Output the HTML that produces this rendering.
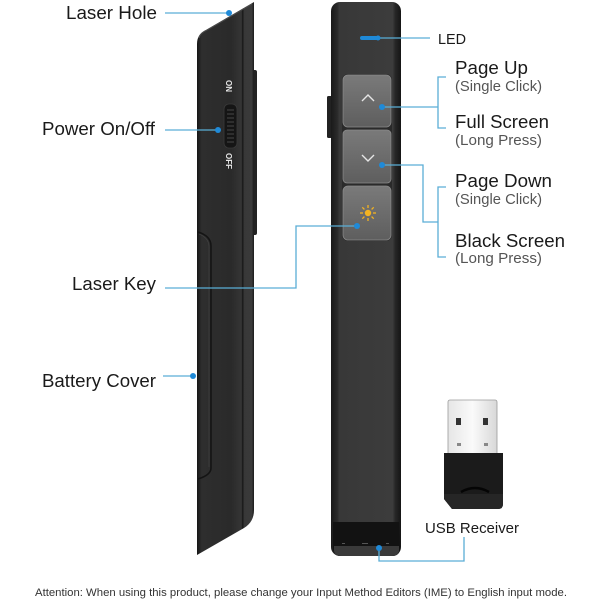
<!DOCTYPE html>
<html>
<head>
<meta charset="utf-8">
<style>
  html,body{margin:0;padding:0;background:#fff;}
  svg{display:block;}
  text{font-family:"Liberation Sans",Arial,sans-serif;}
</style>
</head>
<body>
<svg width="600" height="600" viewBox="0 0 600 600" xmlns="http://www.w3.org/2000/svg">
  <defs>
    <linearGradient id="sideG" x1="0" y1="0" x2="1" y2="0">
      <stop offset="0" stop-color="#161616"/>
      <stop offset="0.08" stop-color="#2e2e2e"/>
      <stop offset="0.6" stop-color="#2a2a2a"/>
      <stop offset="0.78" stop-color="#353535"/>
      <stop offset="0.8" stop-color="#161616"/>
      <stop offset="0.83" stop-color="#383838"/>
      <stop offset="0.96" stop-color="#3a3a3a"/>
      <stop offset="1" stop-color="#1a1a1a"/>
    </linearGradient>
    <linearGradient id="frontG" x1="0" y1="0" x2="1" y2="0">
      <stop offset="0" stop-color="#1a1a1a"/>
      <stop offset="0.09" stop-color="#2a2a2a"/>
      <stop offset="0.12" stop-color="#383838"/>
      <stop offset="0.88" stop-color="#3c3c3c"/>
      <stop offset="0.92" stop-color="#262626"/>
      <stop offset="1" stop-color="#151515"/>
    </linearGradient>
    <linearGradient id="btnG" x1="0" y1="0" x2="0" y2="1">
      <stop offset="0" stop-color="#7a7a7a"/>
      <stop offset="1" stop-color="#5e5e5e"/>
    </linearGradient>
    <linearGradient id="metalG" x1="0" y1="0" x2="1" y2="0">
      <stop offset="0" stop-color="#e6e6e6"/>
      <stop offset="0.5" stop-color="#fafafa"/>
      <stop offset="1" stop-color="#d8d8d8"/>
    </linearGradient>
  </defs>

  <!-- ========== SIDE DEVICE ========== -->
  <!-- side button protrusion -->
  <rect x="252" y="70" width="5" height="165" rx="2" fill="#222"/>
  <path d="M197 44 Q197 34 206 30 L254 2 L254 510 Q254 522 244 528 L197 555 Z" fill="url(#sideG)"/>
  <!-- top rim highlight -->
  <path d="M199 38 Q200 33 207 30 L252 4" stroke="#4a4a4a" stroke-width="1.2" fill="none"/>
  <!-- battery cover outline -->
  <path d="M198 232 Q211 236 211 246 L211 468 Q211 475 198 479" stroke="#141414" stroke-width="1.6" fill="none"/>
  <path d="M199 234 Q209 238 209 247 L209 467" stroke="#444" stroke-width="0.6" fill="none"/>
  <!-- switch -->
  <text x="0" y="0" font-size="8" font-weight="bold" fill="#e8e8e8" transform="translate(226,80) rotate(90)">ON</text>
  <rect x="224" y="104" width="13" height="44" rx="5" fill="#151515" stroke="#3a3a3a" stroke-width="0.8"/>
  <g stroke="#555" stroke-width="0.8">
    <line x1="227" y1="110" x2="234" y2="110"/>
    <line x1="227" y1="114" x2="234" y2="114"/>
    <line x1="227" y1="118" x2="234" y2="118"/>
    <line x1="227" y1="122" x2="234" y2="122"/>
    <line x1="227" y1="126" x2="234" y2="126"/>
    <line x1="227" y1="130" x2="234" y2="130"/>
    <line x1="227" y1="134" x2="234" y2="134"/>
    <line x1="227" y1="138" x2="234" y2="138"/>
    <line x1="227" y1="142" x2="234" y2="142"/>
  </g>
  <text x="0" y="0" font-size="8" font-weight="bold" fill="#e8e8e8" transform="translate(226,153) rotate(90)">OFF</text>

  <!-- ========== FRONT DEVICE ========== -->
  <rect x="327" y="96" width="5" height="42" rx="1.5" fill="#222"/>
  <rect x="331" y="2" width="70" height="554" rx="9" fill="url(#frontG)"/>
  <!-- bottom cap -->
  <path d="M333 522 L399 522 L400 548 Q400 556 392 556 L341 556 Q333 556 333 548 Z" fill="#121212"/>
  <path d="M334 546 L399 546 L399 550 Q399 556 392 556 L341 556 Q334 556 334 550 Z" fill="#3a3a3a"/>
  <g fill="#555">
    <rect x="342" y="543" width="3" height="1"/>
    <rect x="362" y="543" width="6" height="1"/>
    <rect x="386" y="543" width="3" height="1"/>
  </g>
  <!-- LED -->
  <rect x="360" y="36" width="18" height="4" rx="2" fill="#1f8ad8"/>
  <!-- buttons -->
  <rect x="342" y="74" width="50" height="167" rx="6" fill="#2a2a2a"/>
  <rect x="343" y="75" width="48" height="52" rx="5" fill="url(#btnG)" stroke="#8a8a8a" stroke-width="0.8"/>
  <rect x="343" y="130" width="48" height="53" rx="4" fill="url(#btnG)" stroke="#8a8a8a" stroke-width="0.8"/>
  <rect x="343" y="186" width="48" height="54" rx="5" fill="url(#btnG)" stroke="#8a8a8a" stroke-width="0.8"/>
  <polyline points="362,101 368,95 374,101" stroke="#e6e6e6" stroke-width="1.4" fill="none"/>
  <polyline points="362,155 368,161 374,155" stroke="#e6e6e6" stroke-width="1.4" fill="none"/>
  <!-- sun icon -->
  <g stroke="#f3b321" stroke-width="1.3">
    <line x1="368" y1="205" x2="368" y2="208"/>
    <line x1="368" y1="218" x2="368" y2="221"/>
    <line x1="360" y1="213" x2="363" y2="213"/>
    <line x1="373" y1="213" x2="376" y2="213"/>
    <line x1="362.3" y1="207.3" x2="364.4" y2="209.4"/>
    <line x1="371.6" y1="216.6" x2="373.7" y2="218.7"/>
    <line x1="373.7" y1="207.3" x2="371.6" y2="209.4"/>
    <line x1="364.4" y1="216.6" x2="362.3" y2="218.7"/>
  </g>
  <circle cx="368" cy="213" r="3.2" fill="#f3b321"/>

  <!-- ========== USB RECEIVER ========== -->
  <rect x="448" y="400" width="49" height="55" rx="2" fill="url(#metalG)" stroke="#9a9a9a" stroke-width="0.8"/>
  <rect x="456" y="418" width="5" height="7" fill="#333"/>
  <rect x="483" y="418" width="5" height="7" fill="#333"/>
  <rect x="457" y="443" width="4" height="3" fill="#888"/>
  <rect x="484" y="443" width="4" height="3" fill="#888"/>
  <path d="M444 453 L503 453 L503 504 Q503 509 498 509 L452 509 L444 499 Z" fill="#1b1b1b"/>
  <path d="M444 494 L503 494 L503 504 Q503 509 498 509 L452 509 L444 499 Z" fill="#262626"/>
  <path d="M461 492 Q475 484 489 492" stroke="#050505" stroke-width="2.5" fill="none"/>

  <!-- ========== CONNECTOR LINES ========== -->
  <g stroke="#5aaed6" stroke-width="1.3" fill="none">
    <line x1="165" y1="13" x2="229" y2="13"/>
    <line x1="165" y1="130" x2="218" y2="130"/>
    <polyline points="165,288 296,288 296,226 357,226"/>
    <line x1="163" y1="376" x2="193" y2="376"/>
    <line x1="378" y1="38" x2="430" y2="38"/>
    <line x1="382" y1="107" x2="438" y2="107"/>
    <polyline points="446,77 438,77 438,128 446,128"/>
    <polyline points="382,165 423,165 423,222 438,222"/>
    <polyline points="446,187 438,187 438,257 446,257"/>
    <polyline points="379,548 379,561 464,561 464,537"/>
  </g>
  <g fill="#1f8ad8">
    <circle cx="229" cy="13" r="3"/>
    <circle cx="218" cy="130" r="3"/>
    <circle cx="357" cy="226" r="3"/>
    <circle cx="193" cy="376" r="3"/>
    <circle cx="378" cy="38" r="2.5"/>
    <circle cx="382" cy="107" r="3"/>
    <circle cx="382" cy="165" r="3"/>
    <circle cx="379" cy="548" r="3"/>
  </g>

  <!-- ========== LABELS ========== -->
  <g fill="#1a1a1a" font-size="18.5">
    <text x="66" y="19" textLength="91" lengthAdjust="spacingAndGlyphs">Laser Hole</text>
    <text x="42" y="135" textLength="113" lengthAdjust="spacingAndGlyphs">Power On/Off</text>
    <text x="72" y="290" textLength="84" lengthAdjust="spacingAndGlyphs">Laser Key</text>
    <text x="42" y="387" textLength="114" lengthAdjust="spacingAndGlyphs">Battery Cover</text>
  </g>
  <text x="438" y="44" font-size="15" fill="#1a1a1a" textLength="28" lengthAdjust="spacingAndGlyphs">LED</text>
  <g fill="#1a1a1a" font-size="18">
    <text x="455" y="74" textLength="73" lengthAdjust="spacingAndGlyphs">Page Up</text>
    <text x="455" y="128" textLength="94" lengthAdjust="spacingAndGlyphs">Full Screen</text>
    <text x="455" y="187" textLength="97" lengthAdjust="spacingAndGlyphs">Page Down</text>
    <text x="455" y="247" textLength="110" lengthAdjust="spacingAndGlyphs">Black Screen</text>
  </g>
  <g fill="#555" font-size="15">
    <text x="455" y="91" textLength="87" lengthAdjust="spacingAndGlyphs">(Single Click)</text>
    <text x="455" y="145" textLength="87" lengthAdjust="spacingAndGlyphs">(Long Press)</text>
    <text x="455" y="204" textLength="87" lengthAdjust="spacingAndGlyphs">(Single Click)</text>
    <text x="455" y="263" textLength="87" lengthAdjust="spacingAndGlyphs">(Long Press)</text>
  </g>
  <text x="425" y="533" font-size="15" fill="#1a1a1a" textLength="94" lengthAdjust="spacingAndGlyphs">USB Receiver</text>
  <text x="35" y="596" font-size="11" fill="#333" textLength="532" lengthAdjust="spacingAndGlyphs">Attention: When using this product, please change your Input Method Editors (IME) to English input mode.</text>
</svg>
</body>
</html>
